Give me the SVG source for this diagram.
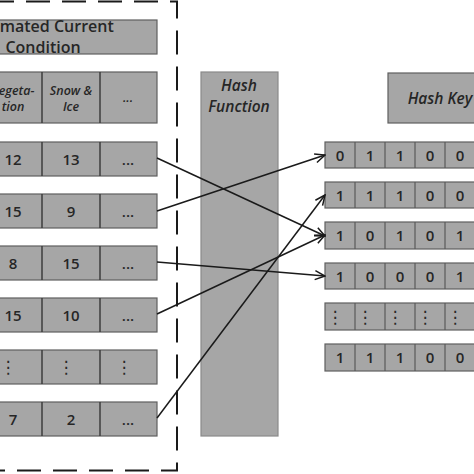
<svg xmlns="http://www.w3.org/2000/svg" width="474" height="474" viewBox="0 0 474 474">
<defs>
<style>
.box{fill:#a6a6a6;stroke:#5f5f5f;stroke-width:1.2}
.hbox{fill:#a6a6a6;stroke:#8a8a8a;stroke-width:1.2}
.div{stroke:#3c3c3c;stroke-width:1.5}
.kdiv{stroke:#5a5a5a;stroke-width:1.2}
.t{font-family:"Open Sans","DejaVu Sans",sans-serif;fill:#262626;text-anchor:middle}
.title{font-size:16px;font-weight:600}
.hdr{font-size:12.5px;font-style:italic;font-weight:600}
.num{font-size:15px;font-weight:600}
.lbl{font-size:15.5px;font-style:italic;font-weight:600}
.vd{font-family:"DejaVu Sans",sans-serif;font-size:17px;fill:#262626;text-anchor:middle}
.conn{stroke:#1a1a1a;stroke-width:1.5;fill:none}
.dash{fill:none;stroke:#1a1a1a;stroke-width:2;stroke-dasharray:24 12}
</style>
<marker id="arr" markerUnits="userSpaceOnUse" markerWidth="12" markerHeight="12" viewBox="0 0 12 12" refX="11" refY="6" orient="auto">
<path d="M1,1.5 L11,6 L1,10.5" fill="none" stroke="#1a1a1a" stroke-width="1.5"/>
</marker>
</defs>
<rect width="474" height="474" fill="#ffffff"/>

<g id="container">
<rect class="dash" x="-10" y="1.5" width="187" height="469"/>
</g>

<g id="title">
<rect class="box" x="-72" y="20" width="229" height="34"/>
<text class="t title" x="43" y="32">Estimated Current</text>
<text class="t title" x="43" y="52.5">Condition</text>
</g>

<g id="header">
<rect class="box" x="-16" y="72" width="173" height="51"/>
<line class="div" x1="42" y1="72" x2="42" y2="123"/>
<line class="div" x1="100" y1="72" x2="100" y2="123"/>
<text class="t hdr" x="13" y="95">Vegeta-</text>
<text class="t hdr" x="13" y="111">tion</text>
<text class="t hdr" x="71" y="95">Snow &amp;</text>
<text class="t hdr" x="71" y="111">Ice</text>
<text class="t hdr" x="128" y="102">...</text>
</g>

<g id="row1">
<rect class="box" x="-16" y="142" width="173" height="34"/>
<line class="div" x1="42" y1="142" x2="42" y2="176"/>
<line class="div" x1="100" y1="142" x2="100" y2="176"/>
<text class="t num" x="13" y="164.5">12</text>
<text class="t num" x="71" y="164.5">13</text>
<text class="t num" x="128" y="164.5">...</text>
</g>
<g id="row2">
<rect class="box" x="-16" y="194" width="173" height="34"/>
<line class="div" x1="42" y1="194" x2="42" y2="228"/>
<line class="div" x1="100" y1="194" x2="100" y2="228"/>
<text class="t num" x="13" y="216.5">15</text>
<text class="t num" x="71" y="216.5">9</text>
<text class="t num" x="128" y="216.5">...</text>
</g>
<g id="row3">
<rect class="box" x="-16" y="246" width="173" height="34"/>
<line class="div" x1="42" y1="246" x2="42" y2="280"/>
<line class="div" x1="100" y1="246" x2="100" y2="280"/>
<text class="t num" x="13" y="268.5">8</text>
<text class="t num" x="71" y="268.5">15</text>
<text class="t num" x="128" y="268.5">...</text>
</g>
<g id="row4">
<rect class="box" x="-16" y="298" width="173" height="34"/>
<line class="div" x1="42" y1="298" x2="42" y2="332"/>
<line class="div" x1="100" y1="298" x2="100" y2="332"/>
<text class="t num" x="13" y="320.5">15</text>
<text class="t num" x="71" y="320.5">10</text>
<text class="t num" x="128" y="320.5">...</text>
</g>
<g id="row5">
<rect class="box" x="-16" y="350" width="173" height="34"/>
<line class="div" x1="42" y1="350" x2="42" y2="384"/>
<line class="div" x1="100" y1="350" x2="100" y2="384"/>
<text class="vd" x="8" y="373">⋮</text>
<text class="vd" x="66" y="373">⋮</text>
<text class="vd" x="124" y="373">⋮</text>
</g>
<g id="row6">
<rect class="box" x="-16" y="402" width="173" height="34"/>
<line class="div" x1="42" y1="402" x2="42" y2="436"/>
<line class="div" x1="100" y1="402" x2="100" y2="436"/>
<text class="t num" x="13" y="424.5">7</text>
<text class="t num" x="71" y="424.5">2</text>
<text class="t num" x="128" y="424.5">...</text>
</g>

<g id="hash-function">
<rect class="hbox" x="201" y="72" width="77" height="364"/>
<text class="t lbl" x="239" y="91">Hash</text>
<text class="t lbl" x="239" y="112">Function</text>
</g>

<g id="hash-key">
<rect class="box" x="388" y="73" width="100" height="50"/>
<text class="t lbl" x="440" y="103.5">Hash Key</text>
</g>

<g id="key1">
<rect class="box" x="325" y="142" width="160" height="26"/>
<line class="kdiv" x1="355" y1="142" x2="355" y2="168"/><line class="kdiv" x1="385" y1="142" x2="385" y2="168"/><line class="kdiv" x1="415" y1="142" x2="415" y2="168"/><line class="kdiv" x1="445" y1="142" x2="445" y2="168"/>
<text class="t num" x="340" y="160.5">0</text><text class="t num" x="370" y="160.5">1</text><text class="t num" x="400" y="160.5">1</text><text class="t num" x="430" y="160.5">0</text><text class="t num" x="460" y="160.5">0</text>
</g>
<g id="key2">
<rect class="box" x="325" y="182" width="160" height="26"/>
<line class="kdiv" x1="355" y1="182" x2="355" y2="208"/><line class="kdiv" x1="385" y1="182" x2="385" y2="208"/><line class="kdiv" x1="415" y1="182" x2="415" y2="208"/><line class="kdiv" x1="445" y1="182" x2="445" y2="208"/>
<text class="t num" x="340" y="200.5">1</text><text class="t num" x="370" y="200.5">1</text><text class="t num" x="400" y="200.5">1</text><text class="t num" x="430" y="200.5">0</text><text class="t num" x="460" y="200.5">0</text>
</g>
<g id="key3">
<rect class="box" x="325" y="222" width="160" height="27"/>
<line class="kdiv" x1="355" y1="222" x2="355" y2="249"/><line class="kdiv" x1="385" y1="222" x2="385" y2="249"/><line class="kdiv" x1="415" y1="222" x2="415" y2="249"/><line class="kdiv" x1="445" y1="222" x2="445" y2="249"/>
<text class="t num" x="340" y="241">1</text><text class="t num" x="370" y="241">0</text><text class="t num" x="400" y="241">1</text><text class="t num" x="430" y="241">0</text><text class="t num" x="460" y="241">1</text>
</g>
<g id="key4">
<rect class="box" x="325" y="263" width="160" height="26"/>
<line class="kdiv" x1="355" y1="263" x2="355" y2="289"/><line class="kdiv" x1="385" y1="263" x2="385" y2="289"/><line class="kdiv" x1="415" y1="263" x2="415" y2="289"/><line class="kdiv" x1="445" y1="263" x2="445" y2="289"/>
<text class="t num" x="340" y="281.5">1</text><text class="t num" x="370" y="281.5">0</text><text class="t num" x="400" y="281.5">0</text><text class="t num" x="430" y="281.5">0</text><text class="t num" x="460" y="281.5">1</text>
</g>
<g id="key5">
<rect class="box" x="325" y="303" width="160" height="27"/>
<line class="kdiv" x1="355" y1="303" x2="355" y2="330"/><line class="kdiv" x1="385" y1="303" x2="385" y2="330"/><line class="kdiv" x1="415" y1="303" x2="415" y2="330"/><line class="kdiv" x1="445" y1="303" x2="445" y2="330"/>
<text class="vd" x="335" y="323">⋮</text><text class="vd" x="365" y="323">⋮</text><text class="vd" x="395" y="323">⋮</text><text class="vd" x="425" y="323">⋮</text><text class="vd" x="455" y="323">⋮</text>
</g>
<g id="key6">
<rect class="box" x="325" y="344" width="160" height="27"/>
<line class="kdiv" x1="355" y1="344" x2="355" y2="371"/><line class="kdiv" x1="385" y1="344" x2="385" y2="371"/><line class="kdiv" x1="415" y1="344" x2="415" y2="371"/><line class="kdiv" x1="445" y1="344" x2="445" y2="371"/>
<text class="t num" x="340" y="363">1</text><text class="t num" x="370" y="363">1</text><text class="t num" x="400" y="363">1</text><text class="t num" x="430" y="363">0</text><text class="t num" x="460" y="363">0</text>
</g>

<g id="connectors">
<line class="conn" x1="157" y1="158" x2="325" y2="236" marker-end="url(#arr)"/>
<line class="conn" x1="157" y1="211" x2="325" y2="155" marker-end="url(#arr)"/>
<line class="conn" x1="157" y1="262" x2="325" y2="276" marker-end="url(#arr)"/>
<line class="conn" x1="157" y1="314" x2="325" y2="235" marker-end="url(#arr)"/>
<line class="conn" x1="157" y1="418" x2="325" y2="195" marker-end="url(#arr)"/>
</g>
</svg>
